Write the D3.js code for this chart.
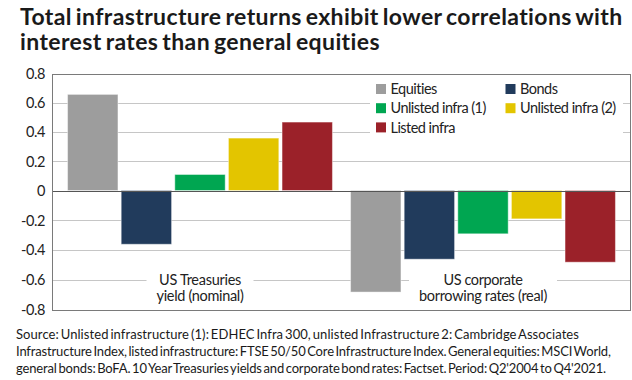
<!DOCTYPE html>
<html lang="en">
<head>
<meta charset="utf-8">
<title>Infrastructure correlations</title>
<script type="text/javascript" src="https://cdnjs.cloudflare.com/ajax/libs/d3/7.8.5/d3.min.js"></script>
<style>
body { margin: 0; background: #fff; }
svg { display: block; font-family: Lato, "Noto Sans", sans-serif; }
</style>
</head>
<body>
<div id="chart"></div>
<script type="text/javascript">

// data
var groups = ["US Treasuries yield (nominal)", "US corporate borrowing rates (real)"];
var groupLines = [["US Treasuries", "yield (nominal)"], ["US corporate", "borrowing rates (real)"]];
var series = ["Equities", "Bonds", "Unlisted infra (1)", "Unlisted infra (2)", "Listed infra"];
var colors = ["#9d9d9d", "#213b5c", "#00a651", "#e3c500", "#9b2129"];
var treasuries = [0.66, -0.36, 0.11, 0.36, 0.47];
var corporate = [-0.68, -0.46, -0.29, -0.19, -0.48];
var yTicks = [-0.8, -0.6, -0.4, -0.2, 0, 0.2, 0.4, 0.6, 0.8];

var titleLines = [
    "Total infrastructure returns exhibit lower correlations with",
    "interest rates than general equities"
];
var sourceLines = [
    "Source: Unlisted infrastructure (1): EDHEC Infra 300, unlisted Infrastructure 2: Cambridge Associates",
    "Infrastructure Index, listed infrastructure: FTSE 50/50 Core Infrastructure Index. General equities: MSCI World,",
    "general bonds: BoFA. 10 Year Treasuries yields and corporate bond rates: Factset. Period: Q2'2004 to Q4'2021."
];

var values = [treasuries, corporate];

var width = 632, height = 380;
var plot = {left: 52, top: 74, right: 631, bottom: 310};

var svg = d3.select("#chart").append("svg")
    .attr("width", width)
    .attr("height", height);

// squeeze a text line to a given width through letter spacing
function fit(text, target) {
    var n = text.text().length;
    var len = text.node().getComputedTextLength();
    text.attr("letter-spacing", ((target - len) / n).toFixed(3));
    return (target - len) / n;
}

// title
var title = svg.append("g");
titleLines.forEach(function(t, i) {
    title.append("text")
        .attr("x", 20)
        .attr("y", 25 + i * 24.5)
        .attr("fill", "#1a1a1a")
        .attr("word-spacing", -2)
        .style("font-size", "23px")
        .style("font-weight", 700)
        .text(t);
});
var ls = fit(title.select("text"), 603);
title.selectAll("text").attr("letter-spacing", ls.toFixed(3));

var x0 = d3.scaleBand()
    .domain(groups)
    .range([plot.left, plot.right])
    .paddingInner(0.064)
    .paddingOuter(0.055);

var x1 = d3.scaleBand()
    .domain(series)
    .range([0, x0.bandwidth()])
    .paddingInner(0.06);

var y = d3.scaleLinear()
    .domain([-0.8, 0, 0.8])
    .range([plot.bottom, 190.5, plot.top]);

// grid
svg.append("g")
    .selectAll("line")
    .data(yTicks.filter(function(d) { return d !== 0 && Math.abs(d) !== 0.8; }))
    .enter().append("line")
        .attr("x1", plot.left)
        .attr("x2", plot.right)
        .attr("y1", function(d) { return Math.round(y(d)) + 0.5; })
        .attr("y2", function(d) { return Math.round(y(d)) + 0.5; })
        .attr("stroke", "#c6c6c6")
        .attr("stroke-width", 1);

// y axis labels
var yAxis = svg.append("g")
    .attr("transform", "translate(" + plot.left + ",0)")
    .call(d3.axisLeft(y).tickValues(yTicks).tickSize(0).tickPadding(7)
        .tickFormat(function(d) { return d === 0 ? "0" : d3.format(".1f")(d).replace("\u2212", "-"); }));
yAxis.select(".domain").remove();
yAxis.selectAll("text")
    .attr("fill", "#222")
    .attr("letter-spacing", -0.4)
    .style("font-family", "Lato, sans-serif")
    .style("font-size", "14.5px");

// bars
var group = svg.append("g")
    .selectAll("g")
    .data(groups)
    .enter().append("g")
        .attr("transform", function(d) { return "translate(" + x0(d) + ",0)"; });

group.selectAll("rect")
    .data(function(d, i) { return values[i].map(function(v, j) { return {key: series[j], value: v, color: colors[j]}; }); })
    .enter().append("rect")
        .attr("x", function(d) { return x1(d.key); })
        .attr("y", function(d) { return y(Math.max(0, d.value)); })
        .attr("width", x1.bandwidth())
        .attr("height", function(d) { return Math.abs(y(d.value) - y(0)); })
        .attr("fill", function(d) { return d.color; })
        .attr("stroke", "#fff")
        .attr("stroke-opacity", 0.45)
        .attr("stroke-width", 1);

// zero line
svg.append("line")
    .attr("x1", plot.left)
    .attr("x2", plot.right)
    .attr("y1", Math.round(y(0)) + 0.5)
    .attr("y2", Math.round(y(0)) + 0.5)
    .attr("stroke", "#555");

// group labels on white patches
var labelWidths = [[82, 87], [79, 128]];
var glabel = svg.append("g")
    .selectAll("g")
    .data(groups)
    .enter().append("g")
        .attr("transform", function(d) { return "translate(" + (x0(d) + x0.bandwidth() / 2) + ",0)"; });

glabel.each(function(d, i) {
    var g = d3.select(this);
    var bg = g.append("rect").attr("fill", "#fff");
    groupLines[i].forEach(function(line, k) {
        var t = g.append("text")
            .attr("x", 0)
            .attr("y", 285 + k * 15.5)
            .attr("text-anchor", "middle")
            .attr("fill", "#222")
            .style("font-size", "14.5px")
            .text(line);
        fit(t, labelWidths[i][k]);
    });
    var w = d3.max(labelWidths[i]);
    bg.attr("x", -w / 2 - 10)
        .attr("y", 270)
        .attr("width", w + 20)
        .attr("height", 36);
});

// frame
svg.append("rect")
    .attr("x", plot.left + 0.5)
    .attr("y", plot.top + 0.5)
    .attr("width", plot.right - plot.left - 1)
    .attr("height", plot.bottom - plot.top)
    .attr("fill", "none")
    .attr("stroke", "#7a7a7a");

// legend
var legendWidths = [46.6, 37.4, 95.3, 95.7, 64.3];
var legend = svg.append("g")
    .attr("transform", "translate(370,78)");

legend.append("rect")
    .attr("width", 253)
    .attr("height", 62)
    .attr("fill", "#fff");

var item = legend.selectAll(".item")
    .data(series)
    .enter().append("g")
        .attr("class", "item")
        .attr("transform", function(d, i) {
            return "translate(" + (6 + (i % 2) * 129.5) + "," + (11 + Math.floor(i / 2) * 19.2) + ")";
        });

item.append("rect")
    .attr("x", 0)
    .attr("y", -5)
    .attr("width", 10)
    .attr("height", 10)
    .attr("fill", function(d, i) { return colors[i]; });

item.append("text")
    .attr("x", 14.5)
    .attr("dy", "0.36em")
    .attr("fill", "#222")
    .style("font-size", "14.5px")
    .text(function(d) { return d; })
    .each(function(d, i) { fit(d3.select(this), legendWidths[i]); });

// source note
var sourceWidths = [563, 595, 590];
sourceLines.forEach(function(s, i) {
    var t = svg.append("text")
        .attr("x", 16)
        .attr("y", 339 + i * 17)
        .attr("fill", "#1a1a1a")
        .attr("word-spacing", -1.5)
        .style("font-size", "13px")
        .text(s);
    fit(t, sourceWidths[i]);
});

</script>
</body>
</html>
